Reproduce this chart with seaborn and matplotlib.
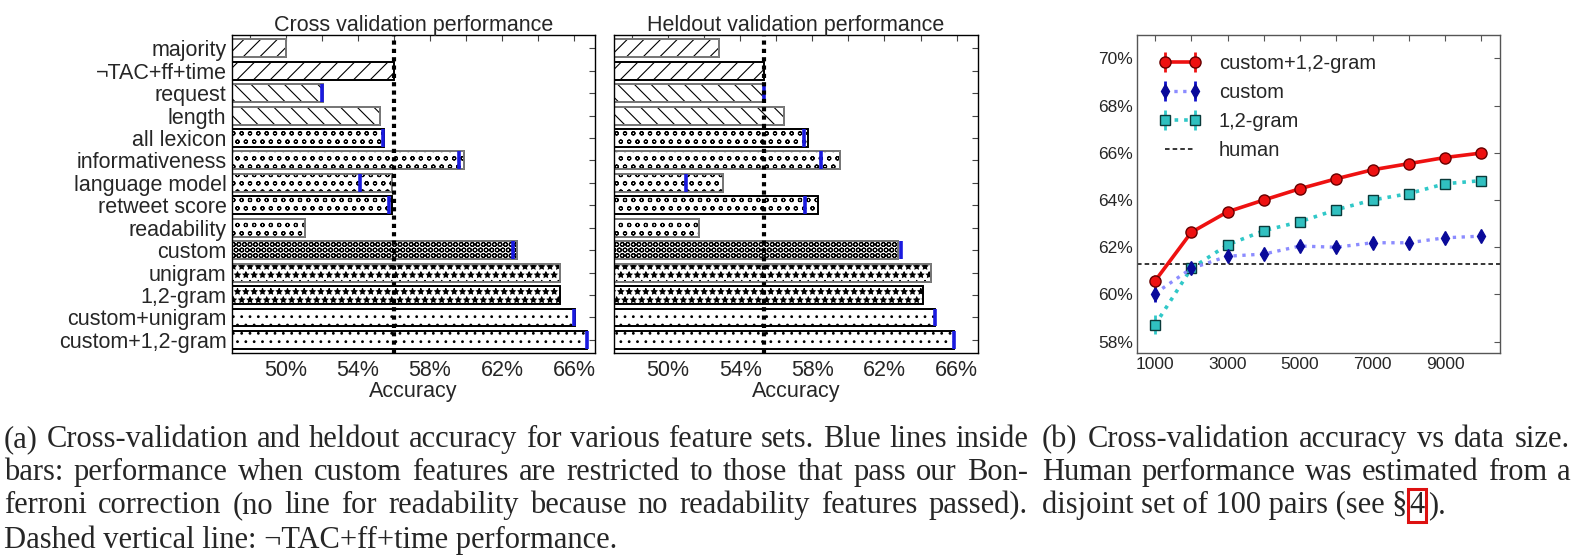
import numpy as np
import matplotlib
matplotlib.use("Agg")
import matplotlib.pyplot as plt
import seaborn as sns

# ---------------------------------------------------------------- data
features = ["majority", "\u00acTAC+ff+time", "request", "length", "all lexicon",
            "informativeness", "language model", "retweet score", "readability",
            "custom", "unigram", "1,2-gram", "custom+unigram", "custom+1,2-gram"]
cv_acc = [50.0, 56.0, 52.05, 55.2, 55.45, 59.9, 55.9, 55.9, 51.05, 62.85, 65.2, 65.2, 66.05, 66.7]
cv_bonf = [np.nan, np.nan, 52.0, np.nan, 55.4, 59.6, 54.1, 55.7, np.nan, 62.6, np.nan, np.nan, 66.0, 66.7]
ho_acc = [52.85, 55.3, 55.3, 56.45, 57.75, 59.55, 53.05, 58.3, 51.7, 62.75, 64.6, 64.15, 64.8, 65.85]
ho_bonf = [np.nan, np.nan, 55.3, np.nan, 57.55, 58.5, 51.0, 57.6, np.nan, 62.9, np.nan, np.nan, 64.8, 65.85]
acc_ticks = [50, 54, 58, 62, 66]

sizes = [1000, 2000, 3000, 4000, 5000, 6000, 7000, 8000, 9000, 10000]
combo = [60.57, 62.63, 63.5, 64.0, 64.48, 64.9, 65.28, 65.54, 65.8, 65.99]
combo_err = [0.25, 0.12, 0.1, 0.1, 0.1, 0.1, 0.1, 0.1, 0.1, 0.1]
custom = [60.04, 61.1, 61.62, 61.71, 62.05, 62.0, 62.19, 62.19, 62.4, 62.47]
custom_err = [0.38, 0.2, 0.18, 0.18, 0.18, 0.18, 0.18, 0.18, 0.16, 0.15]
bigram = [58.71, 61.1, 62.1, 62.7, 63.08, 63.59, 64.0, 64.27, 64.69, 64.82]
bigram_err = [0.4, 0.15, 0.12, 0.12, 0.12, 0.12, 0.12, 0.12, 0.12, 0.1]
human = 61.3
pct_ticks = [58, 60, 62, 64, 66, 68, 70]
size_ticks = [1000, 3000, 5000, 7000, 9000]

caption_a = ["(a)  Cross-validation and heldout accuracy for various feature sets. Blue lines inside",
             "bars: performance when custom features are restricted to those that pass our Bon-",
             "ferroni correction (no line for readability because no readability features passed).",
             "Dashed vertical line: \u00acTAC+ff+time performance."]
caption_b = ["(b)  Cross-validation accuracy vs data size.",
             "Human performance was estimated from a",
             "disjoint set of 100 pairs (see \u00a7", "4", ")."]

hatches = ["//", "//", "\\\\", "\\\\", "oo", "oo", "oo", "oo", "oo", "OOO", "**", "**", "..", ".."]
edges = ["gray", "black", "gray", "gray", "black", "gray", "gray", "black", "gray",
         "gray", "gray", "black", "black", "black"]

# ---------------------------------------------------------------- style
sns.set_style("white")
plt.rcParams["font.family"] = ["Liberation Sans", "DejaVu Sans"]
plt.rcParams["hatch.linewidth"] = 0.8

W, H = 1576, 559
fig = plt.figure(figsize=(W / 100, H / 100), dpi=100)

ax1 = fig.add_axes([232 / W, 1 - 352.7 / H, 363 / W, 317.7 / H])
ax2 = fig.add_axes([614 / W, 1 - 352.7 / H, 363.7 / W, 317.7 / H])
ax3 = fig.add_axes([1136.7 / W, 1 - 353 / H, 363.3 / W, 318 / H])


def bar_panel(ax, acc, bonf, title, show_labels):
    sns.barplot(x=acc, y=features, orient="h", ax=ax, color="white", saturation=1,
                width=0.8, edgecolor="black", linewidth=1.2)
    for patch, h in zip(ax.patches, hatches):
        patch.set_hatch(h)
        patch.set_edgecolor("black")
    pos = np.arange(len(features))
    ax.barh(pos, acc, height=0.8, fill=False, edgecolor=edges, linewidth=1.3)
    b = np.array(bonf)
    ok = ~np.isnan(b)
    ax.vlines(b[ok], pos[ok] - 0.4, pos[ok] + 0.4, colors="#1a1adf", linewidth=2.6, zorder=4)
    ax.axvline(acc[1], color="black", linestyle=(0, (1, 1)), linewidth=3.0, zorder=5)
    ax.set_xlim(47.0, 67.17)
    ax.set_ylim(13.57, -0.59)
    ax.set_xticks(acc_ticks)
    ax.set_xticklabels([f"{t}%" for t in acc_ticks])
    ax.set_xticks([t - 2 for t in acc_ticks], minor=True)
    ax.tick_params(axis="both", which="both", direction="in", top=True, right=True,
                   length=4, width=0.8, color="#444444", labelsize=15.5)
    ax.tick_params(axis="x", pad=5)
    ax.tick_params(axis="y", pad=4)
    if not show_labels:
        ax.set_yticklabels([])
    ax.set_ylabel("")
    ax.set_xlabel("Accuracy", fontsize=15.5, labelpad=0)
    ax.set_title(title, fontsize=15.5, pad=3)
    for s in ax.spines.values():
        s.set_color("black")
        s.set_linewidth(1.0)


bar_panel(ax1, cv_acc, cv_bonf, "Cross validation performance", True)
bar_panel(ax2, ho_acc, ho_bonf, "Heldout validation performance", False)

# ---------------------------------------------------------------- data size panel
h_combo = ax3.errorbar(sizes, combo, yerr=combo_err, fmt="-o", color="#ee1111", mfc="#ee1111",
                       mec="#660000", ms=8, lw=2.6, elinewidth=2, ecolor="#ee1111", capsize=0,
                       zorder=5)
h_custom = ax3.errorbar(sizes, custom, yerr=custom_err, fmt=":d", color="#8c8cff", mfc="#0a0a9a",
                        mec="#0a0a9a", ms=7, lw=2.4, elinewidth=2, ecolor="#1010cc", capsize=0,
                        zorder=4)
h_bigram = ax3.errorbar(sizes, bigram, yerr=bigram_err, fmt=":s", color="#30c8c8", mfc="#30c0c0",
                        mec="#0a3a3a", ms=7.5, lw=2.6, elinewidth=2, ecolor="#30c8c8", capsize=0,
                        zorder=3)
h_human = ax3.axhline(human, color="black", linestyle=(0, (3, 2)), linewidth=1.1)
ax3.set_xlim(495, 10517)
ax3.set_ylim(57.52, 70.99)
ax3.set_yticks(pct_ticks)
ax3.set_yticklabels([f"{t}%" for t in pct_ticks])
ax3.set_xticks(size_ticks)
ax3.set_xticks([t + 1000 for t in size_ticks], minor=True)
ax3.tick_params(axis="both", which="both", direction="in", top=True, right=True,
                length=4, width=0.8, color="#555555", labelsize=12.5)
ax3.tick_params(axis="y", pad=2.5)
ax3.tick_params(axis="x", pad=3)
for s in ax3.spines.values():
    s.set_color("#555555")
    s.set_linewidth(1.0)
ax3.legend([h_combo, h_custom, h_bigram, h_human],
           ["custom+1,2-gram", "custom", "1,2-gram", "human"],
           loc="upper left", bbox_to_anchor=(0.062, 0.94), frameon=False, numpoints=2,
           fontsize=14.5, handlelength=2.1, handletextpad=0.85, labelspacing=0.5,
           borderpad=0, borderaxespad=0)

# ---------------------------------------------------------------- captions
renderer = fig.canvas.get_renderer()
serif = ["Liberation Serif", "DejaVu Serif"]
cap_size = 22
baselines = [447, 480, 513, 548]


def put(x, y, s, **kw):
    return fig.text(x / W, 1 - y / H, s, fontsize=cap_size, family=serif,
                    va="baseline", ha="left", **kw)


def justify(line, x0, x1, y):
    words = line.split()
    arts = [put(0, y, w) for w in words]
    widths = [a.get_window_extent(renderer).width for a in arts]
    gap = (x1 - x0 - sum(widths)) / (len(words) - 1)
    x = x0
    for a, w in zip(arts, widths):
        a.set_x(x / W)
        x += w + gap


for line, y in zip(caption_a[:3], baselines):
    justify(line, 4, 1028, y)
put(4, baselines[3], caption_a[3])

justify(caption_b[0], 1042, 1570, baselines[0])
justify(caption_b[1], 1042, 1570, baselines[1])
t1 = put(1042, baselines[2], caption_b[2])
w1 = t1.get_window_extent(renderer).width
t2 = put(1042 + w1 + 2, baselines[2], caption_b[3],
         bbox=dict(facecolor="none", edgecolor="#dd1111", linewidth=2.2, pad=1.2))
w2 = t2.get_window_extent(renderer).width
put(1042 + w1 + w2 + 5, baselines[2], caption_b[4])

fig.savefig("out.png", dpi=100, facecolor="white")
